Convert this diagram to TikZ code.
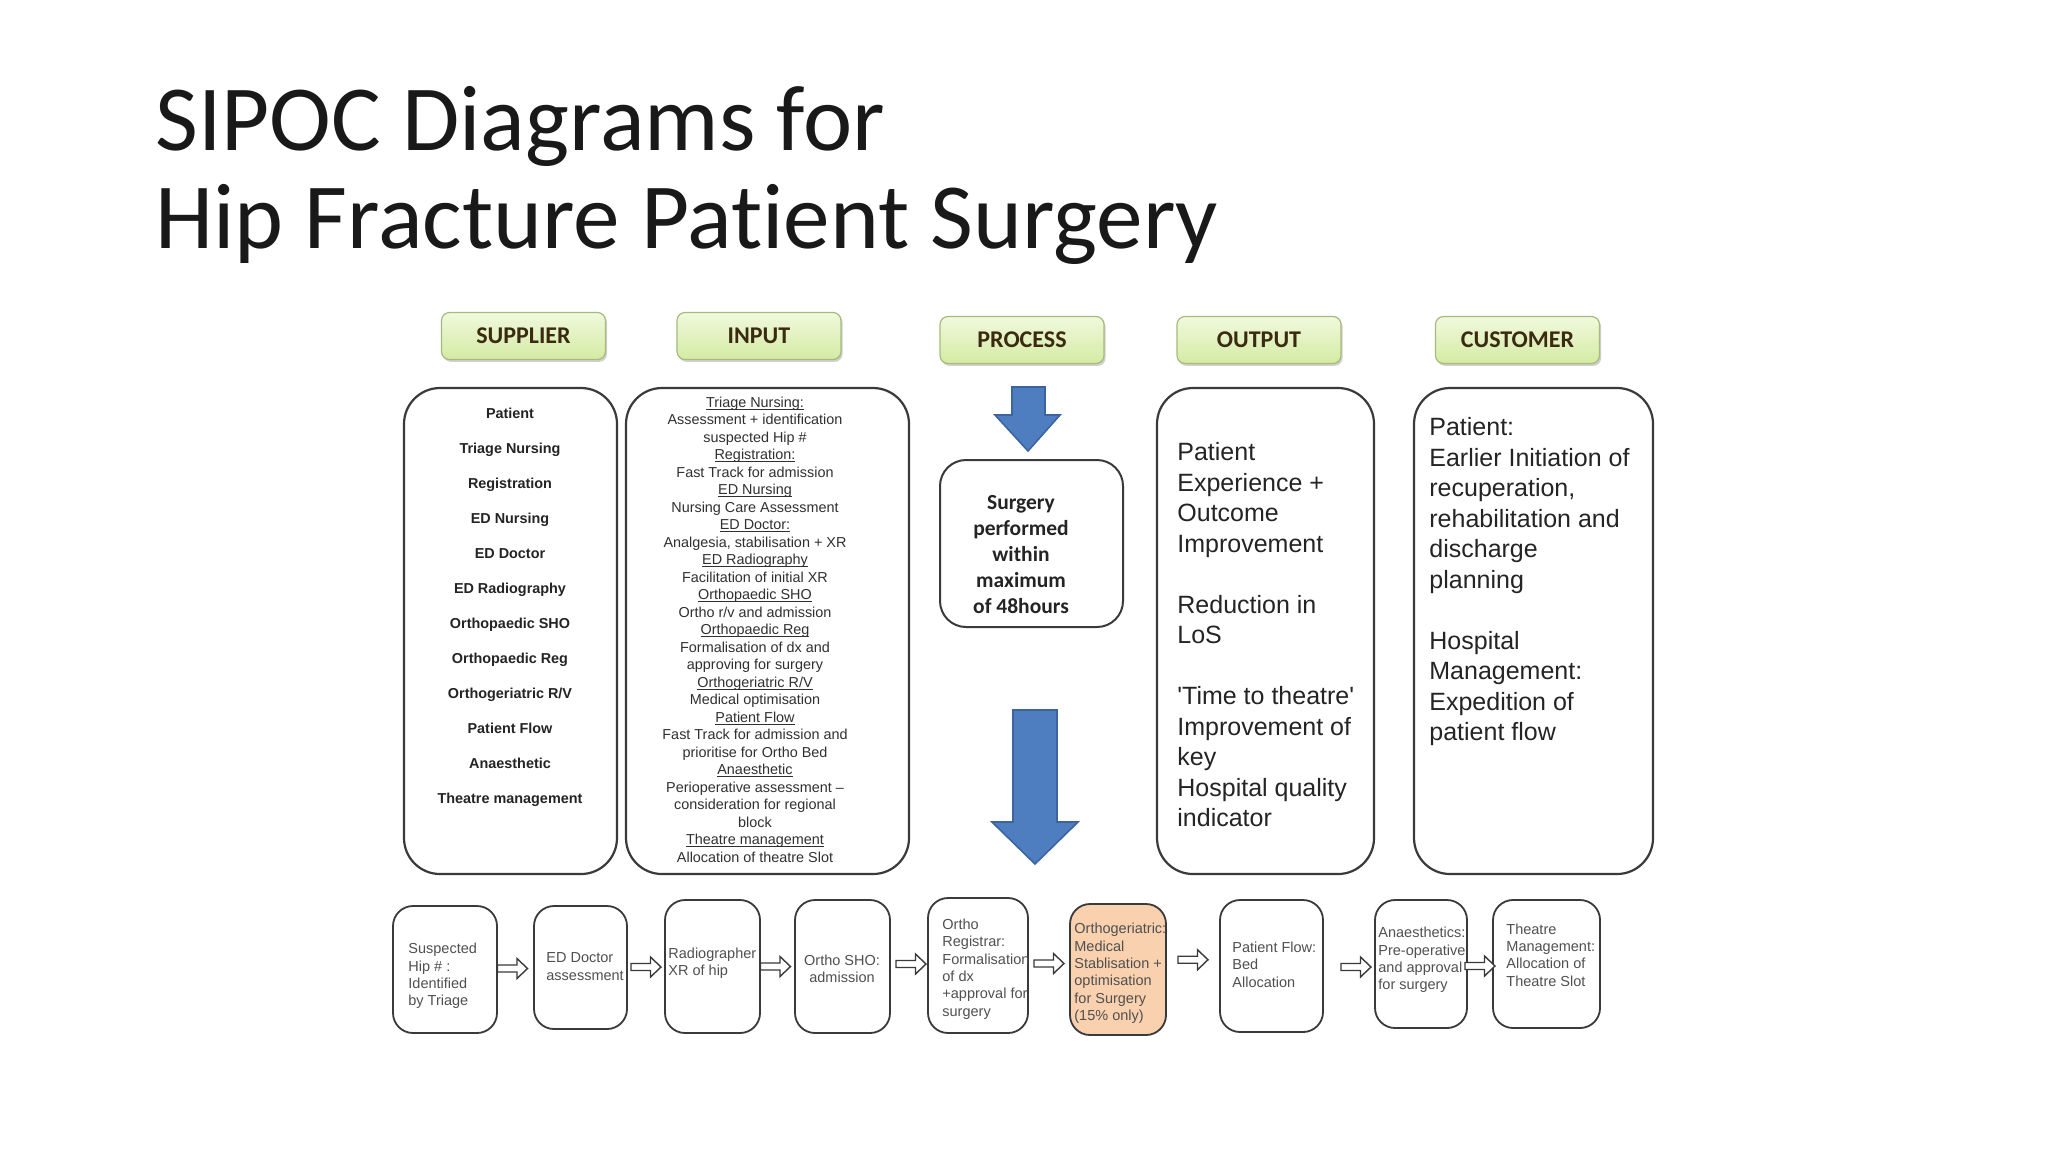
\documentclass[tikz,border=0pt]{standalone}
\usepackage{fontspec}
\setmainfont{Liberation Sans}
\newfontfamily\calib{Carlito}[Ligatures={TeX,NoCommon}]
\usetikzlibrary{calc,shadows}
\definecolor{hdrtop}{HTML}{F1F9DD}
\definecolor{hdrbot}{HTML}{D3EBA3}
\definecolor{hdrborder}{HTML}{A7BA7C}
\definecolor{hdrtext}{HTML}{3B2A12}
\definecolor{bluefill}{HTML}{4E7DC0}
\definecolor{blueline}{HTML}{3C659F}
\definecolor{orangefill}{HTML}{F9D1AE}
\definecolor{boxline}{HTML}{3A3A3A}
\definecolor{txtdark}{HTML}{242424}
\definecolor{txtmid}{HTML}{303030}
\definecolor{txtgrey}{HTML}{505050}
\newcommand\ulx[1]{\setbox0\hbox{#1}\rlap{\rule[-1.1pt]{\wd0}{0.35pt}}\box0}
\newcommand\hollowarr[4]{%
  \draw[harrow] ($(#1.east)!0.5!(#2.west)+(#3,#4)$) ++(-15,-3.5) -- ++(19.5,0) -- ++(0,-6.5)
    -- ++(10.5,10) -- ++(-10.5,10) -- ++(0,-6.5) -- ++(-19.5,0) -- cycle;}
\begin{document}
\begin{tikzpicture}[x=0.5pt,y=-0.5pt,
  hdr/.style={draw=hdrborder, line width=0.6pt, rounded corners=4pt,
    top color=hdrtop, bottom color=hdrbot, minimum width=82pt, minimum height=23.5pt,
    inner sep=0pt, font=\calib\bfseries\fontsize{12}{14}\selectfont, text=hdrtext,
    drop shadow={shadow xshift=0.8pt, shadow yshift=-1.2pt, opacity=0.3, fill=black!60}},
  bigbox/.style={draw=boxline, line width=1.1pt, rounded corners=18pt,
    minimum height=243pt, inner sep=0pt},
  smallbox/.style={draw=boxline, line width=0.9pt, rounded corners=10pt, inner sep=0pt},
  smalltxt/.style={font=\fontsize{7.25}{8.7}\selectfont, text=txtgrey, align=left,
    inner sep=0pt, anchor=west},
  harrow/.style={draw=boxline, line width=0.7pt, fill=white},
  bluearrow/.style={fill=bluefill, draw=blueline, line width=0.8pt, line join=miter}]
\useasboundingbox (0,0) rectangle (2048,1152);
\fill[white] (0,0) rectangle (2048,1152);

% title
\node[anchor=base west, inner sep=0pt, font=\calib\fontsize{46.6}{56}\selectfont, text=black!90] (title1) at (155,150) {SIPOC Diagrams for};
\node[anchor=base west, inner sep=0pt, font=\calib\fontsize{46.6}{56}\selectfont, text=black!90] (title2) at (155,248) {Hip Fracture Patient Surgery};

% headers
\node[hdr] (hS) at (523.5,336) {SUPPLIER};
\node[hdr] (hI) at (759,336) {INPUT};
\node[hdr] (hP) at (1022,340) {PROCESS};
\node[hdr] (hO) at (1259,340) {OUTPUT};
\node[hdr] (hC) at (1517.5,340) {CUSTOMER};

% big boxes
\node[bigbox, minimum width=106.5pt] (bS) at (510.5,631) {};
\node[bigbox, minimum width=141.5pt] (bI) at (767.5,631) {};
\node[bigbox, minimum width=108.5pt] (bO) at (1265.5,631) {};
\node[bigbox, minimum width=119.5pt] (bC) at (1533.5,631) {};

\node[font=\bfseries\fontsize{7.2}{17.5}\selectfont, align=center, text=txtdark, inner sep=0pt] (tS) at (510,607)
  {Patient\\Triage Nursing\\Registration\\ED Nursing\\ED Doctor\\ED Radiography\\Orthopaedic SHO\\Orthopaedic Reg\\Orthogeriatric R/V\\Patient Flow\\Anaesthetic\\Theatre management};

\node[font=\fontsize{7.2}{8.75}\selectfont, align=center, text=txtmid, inner sep=0pt] (tI) at (755,629.5)
  {\ulx{Triage Nursing:}\\Assessment + identification\\suspected Hip \#\\\ulx{Registration:}\\Fast Track for admission\\\ulx{ED Nursing}\\Nursing Care Assessment\\\ulx{ED Doctor:}\\Analgesia, stabilisation + XR\\\ulx{ED Radiography}\\Facilitation of initial XR\\\ulx{Orthopaedic SHO}\\Ortho r/v and admission\\\ulx{Orthopaedic Reg}\\Formalisation of dx and\\approving for surgery\\\ulx{Orthogeriatric R/V}\\Medical optimisation\\\ulx{Patient Flow}\\Fast Track for admission and\\prioritise for Ortho Bed\\\ulx{Anaesthetic}\\Perioperative assessment --\\consideration for regional\\block\\\ulx{Theatre management}\\Allocation of theatre Slot};

\node[anchor=north west, font=\fontsize{12.5}{15.25}\selectfont, align=left, inner sep=0pt, text=txtdark] (tO) at (1177,442)
  {Patient\\Experience +\\Outcome\\Improvement\\[15.25pt]Reduction in\\LoS\\[15.25pt]\textquotesingle Time to theatre\textquotesingle\\Improvement of\\key\\Hospital quality\\indicator};

\node[anchor=north west, font=\fontsize{12.5}{15.25}\selectfont, align=left, inner sep=0pt, text=txtdark] (tC) at (1429,417)
  {Patient:\\Earlier Initiation of\\recuperation,\\rehabilitation and\\discharge\\planning\\[15.25pt]Hospital\\Management:\\Expedition of\\patient flow};

% process
\node[draw=boxline, line width=1pt, rounded corners=13pt, minimum width=91.5pt, minimum height=83.5pt, inner sep=0pt] (pB) at (1031.5,543.5) {};
\node[font=\calib\bfseries\fontsize{10.75}{13}\selectfont, align=center, text=txtdark, inner sep=0pt] (pT) at (1021,555)
  {Surgery\\performed\\within\\maximum\\of 48hours};

\filldraw[bluearrow] (1012,387) -- (1045,387) -- (1045,415) -- (1060,415) -- (1028,451) -- (995,415) -- (1012,415) -- cycle;
\filldraw[bluearrow] (1013,710) -- (1057,710) -- (1057,822) -- (1078,822) -- (1035,864) -- (992,822) -- (1013,822) -- cycle;

% bottom row
\node[smallbox, minimum width=52pt, minimum height=63.5pt] (b1) at (445,969.5) {};
\node[smallbox, minimum width=46.5pt, minimum height=61.5pt] (b2) at (580.5,967.5) {};
\node[smallbox, minimum width=47.5pt, minimum height=66.5pt] (b3) at (712.5,966.5) {};
\node[smallbox, minimum width=47.5pt, minimum height=66.5pt] (b4) at (842.5,966.5) {};
\node[smallbox, minimum width=50pt, minimum height=67.5pt] (b5) at (978,965.5) {};
\node[smallbox, fill=orangefill, minimum width=48pt, minimum height=65.5pt] (b6) at (1118,969.5) {};
\node[smallbox, minimum width=51.5pt, minimum height=66pt] (b7) at (1271.5,966) {};
\node[smallbox, minimum width=46pt, minimum height=64pt] (b8) at (1421,964) {};
\node[smallbox, minimum width=53.5pt, minimum height=64pt] (b9) at (1546.5,964) {};

\node[smalltxt] (t1) at (408,976) {Suspected\\Hip \# :\\Identified\\by Triage};
\node[smalltxt] (t2) at (546,966.5) {ED Doctor\\assessment};
\node[smalltxt] (t3) at (668,963.5) {Radiographer\\XR of hip};
\node[smalltxt, align=center, anchor=center] (t4) at (842,969) {Ortho SHO:\\admission};
\begin{scope}
\clip[rounded corners=10pt] ($(b5.south west)+(1,-1)$) rectangle ($(b5.north east)+(-1,1)$);
\node[smalltxt] (t5) at (942,969) {Ortho\\Registrar:\\Formalisation\\of dx\\+approval for\\surgery};
\end{scope}
\node[smalltxt] (t6) at (1074,973.5) {Orthogeriatric:\\Medical\\Stablisation +\\optimisation\\for Surgery\\(15\% only)};
\node[smalltxt] (t7) at (1232,964.5) {Patient Flow:\\Bed\\Allocation};
\node[smalltxt] (t8) at (1378,960) {Anaesthetics:\\Pre-operative\\and approval\\for surgery};
\node[smalltxt] (t9) at (1506,955) {Theatre\\Management:\\Allocation of\\Theatre Slot};

\hollowarr{b1}{b2}{-3}{0}
\hollowarr{b2}{b3}{0}{0}
\hollowarr{b3}{b4}{-2}{0}
\hollowarr{b4}{b5}{2}{-2}
\hollowarr{b5}{b6}{0}{-4}
\hollowarr{b6}{b7}{0}{-8}
\hollowarr{b7}{b8}{7}{2}
\hollowarr{b8}{b9}{0}{2}
\end{tikzpicture}
\end{document}
